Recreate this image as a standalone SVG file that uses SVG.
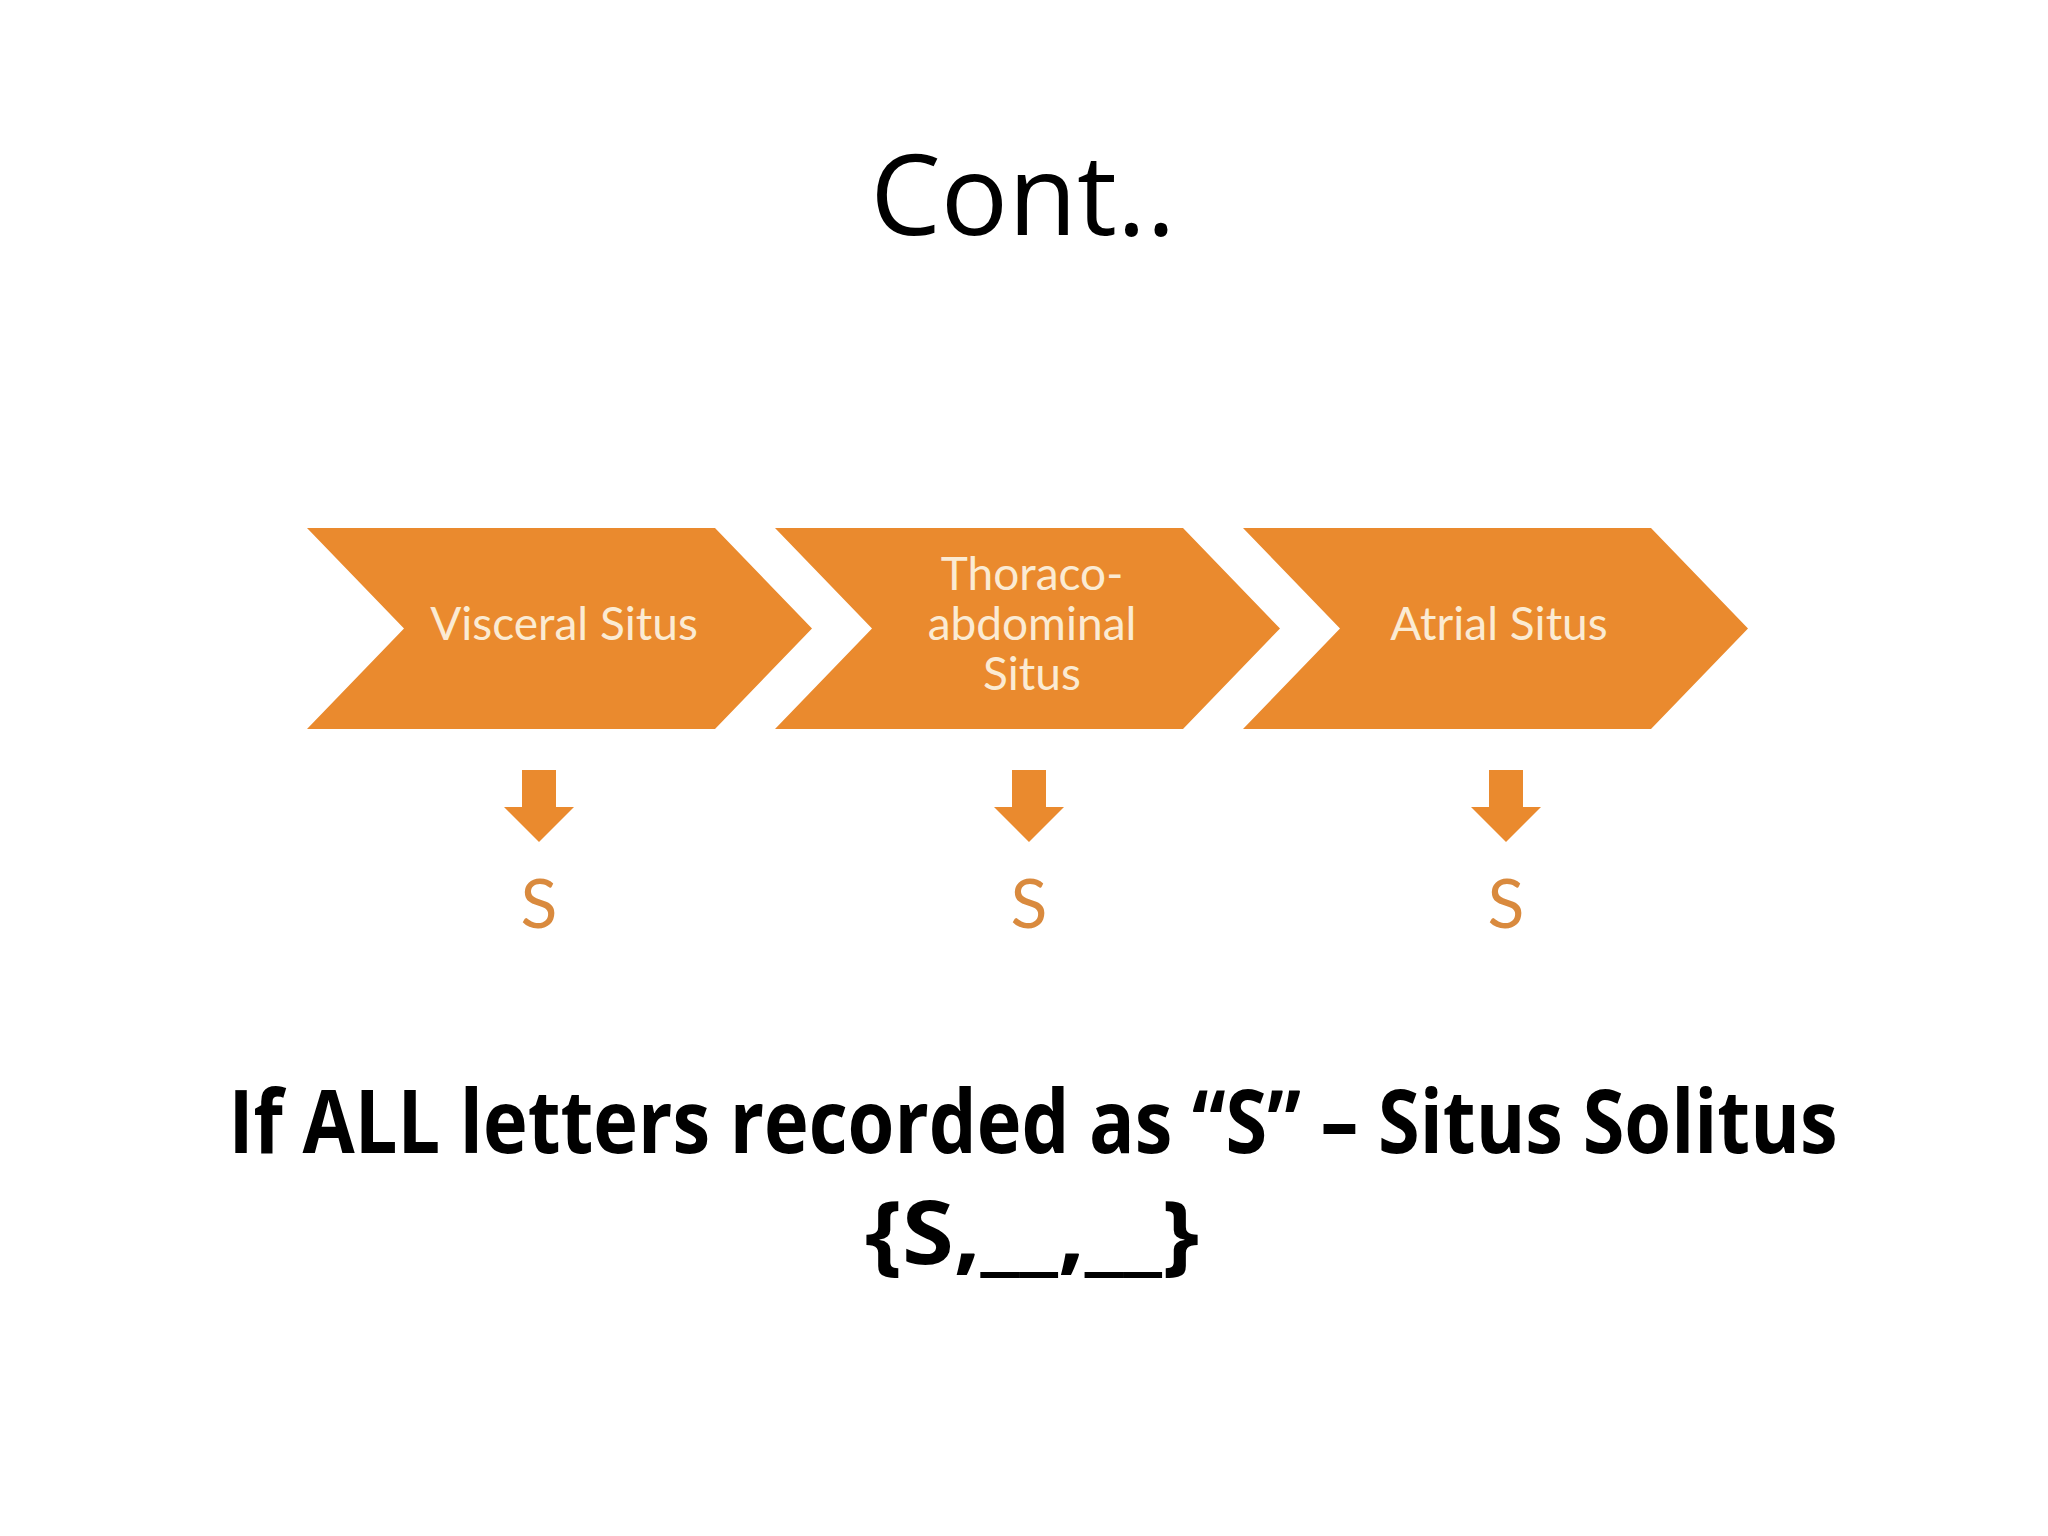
<svg xmlns="http://www.w3.org/2000/svg" width="2048" height="1536" viewBox="0 0 2048 1536">
<defs>
<style>
.chev{fill:#EA8A2E}
.lbl{font-family:Lato,"Open Sans",sans-serif;font-size:46px;fill:#FBEBD3;text-anchor:middle}
.arr{fill:#EA8A2E}
.s{font-family:Lato,"Open Sans",sans-serif;font-size:68px;fill:#D98A3E;text-anchor:middle;font-weight:normal}
.title{font-family:"Open Sans","Noto Sans",sans-serif;font-size:112px;fill:#000;text-anchor:middle}
.body{font-family:"Open Sans","Noto Sans",sans-serif;font-weight:bold;fill:#000;text-anchor:middle}
</style>
<path id="chevShape" d="M0,0 H408 L505,100.5 L408,201 H0 L97,100.5 Z"/>
<path id="downArrow" d="M-17,0 H17 V37 H35 L0,72 L-35,37 H-17 Z"/>
</defs>
<rect width="2048" height="1536" fill="#FFFFFF"/>
<text class="title" x="1023" y="235">Cont..</text>
<g id="node-visceral">
<use href="#chevShape" class="chev" x="307" y="528"/>
<text class="lbl" x="564" y="640">Visceral Situs</text>
</g>
<g id="node-thoraco">
<use href="#chevShape" class="chev" x="775" y="528"/>
<text class="lbl" x="1032" y="590">Thoraco-</text>
<text class="lbl" x="1032" y="640">abdominal</text>
<text class="lbl" x="1032" y="690">Situs</text>
</g>
<g id="node-atrial">
<use href="#chevShape" class="chev" x="1243" y="528"/>
<text class="lbl" x="1499" y="640">Atrial Situs</text>
</g>
<g id="connectors">
<use href="#downArrow" class="arr" x="539" y="770"/>
<use href="#downArrow" class="arr" x="1029" y="770"/>
<use href="#downArrow" class="arr" x="1506" y="770"/>
</g>
<g id="node-s1"><text class="s" x="539" y="928">S</text></g>
<g id="node-s2"><text class="s" x="1029" y="928">S</text></g>
<g id="node-s3"><text class="s" x="1506" y="928">S</text></g>
<text class="body" font-size="70" transform="translate(1033,1153) scale(1,1.257)" x="0" y="0" textLength="1609" lengthAdjust="spacingAndGlyphs">If ALL letters recorded as “S” – Situs Solitus</text>
<text class="body" font-size="70" transform="translate(1032,1264) scale(1,1.257)" x="0" y="0" textLength="334" lengthAdjust="spacingAndGlyphs">{S,__,__}</text>
</svg>
